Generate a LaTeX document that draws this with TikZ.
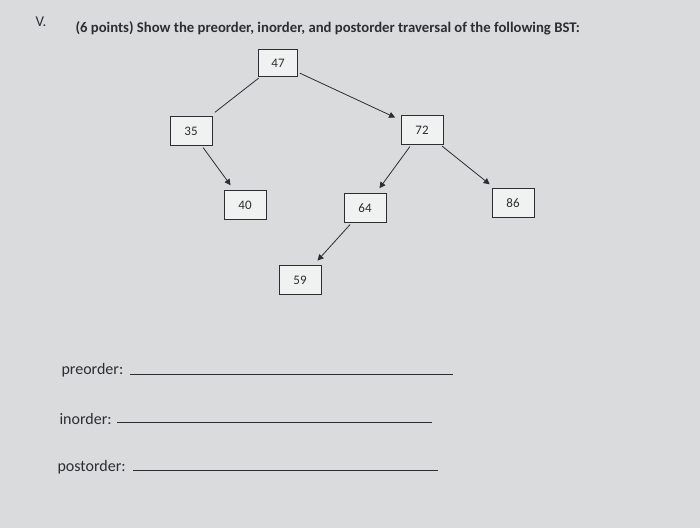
\documentclass[tikz,border=0pt]{standalone}
\usepackage{fontspec}
\setmainfont{Carlito}
\usetikzlibrary{arrows.meta}
\definecolor{paper}{RGB}{218,219,221}
\definecolor{ink}{RGB}{45,45,50}
\begin{document}
\begin{tikzpicture}[x=1pt,y=-1pt,
  key/.style={draw=ink,fill=white!60!paper,line width=0.9pt,minimum width=42pt,minimum height=29pt,text=ink,font=\fontsize{13}{15}\selectfont},
  edge/.style={draw=ink,line width=0.8pt,-{Triangle[length=6pt,width=6pt]},shorten <=2pt,shorten >=6pt},
  lab/.style={text=ink,font=\fontsize{16}{19}\selectfont,anchor=west}]
\fill[paper] (0,0) rectangle (700,528);
\useasboundingbox (0,0) rectangle (700,528);
\node[lab,font=\fontsize{15}{18}\selectfont] (v) at (32,22) {V.};
\node[lab,font=\fontsize{14.7}{18}\selectfont\bfseries] (t) at (72,28) {(6 points) Show the preorder, inorder, and postorder traversal of the following BST:};
\node[key,minimum width=39pt,minimum height=27pt] (n47) at (278,63) {47};
\node[key] (n35) at (191,131) {35};
\node[key] (n72) at (422,130) {72};
\node[key] (n40) at (245,205) {40};
\node[key] (n64) at (365,208) {64};
\node[key] (n86) at (513,203) {86};
\node[key] (n59) at (300,280) {59};
\draw[edge,-] (n47) -- (n35);
\draw[edge] (n47) -- (n72);
\draw[edge] (n35) -- (n40);
\draw[edge] (n72) -- (n64);
\draw[edge] (n72) -- (n86);
\draw[edge] (n64) -- (n59);
\node[lab] (pre) at (58,370) {preorder:};
\node[lab] (in) at (56,419) {inorder:};
\node[lab] (post) at (54,467) {postorder:};
\coordinate (a1) at (130,374); \coordinate (a2) at (453,374);
\coordinate (b1) at (117,422); \coordinate (b2) at (432,422);
\coordinate (c1) at (133,470); \coordinate (c2) at (438,470);
\draw[ink,line width=0.8pt] (a1) -- (a2);
\draw[ink,line width=0.8pt] (b1) -- (b2);
\draw[ink,line width=0.8pt] (c1) -- (c2);
\end{tikzpicture}
\end{document}
